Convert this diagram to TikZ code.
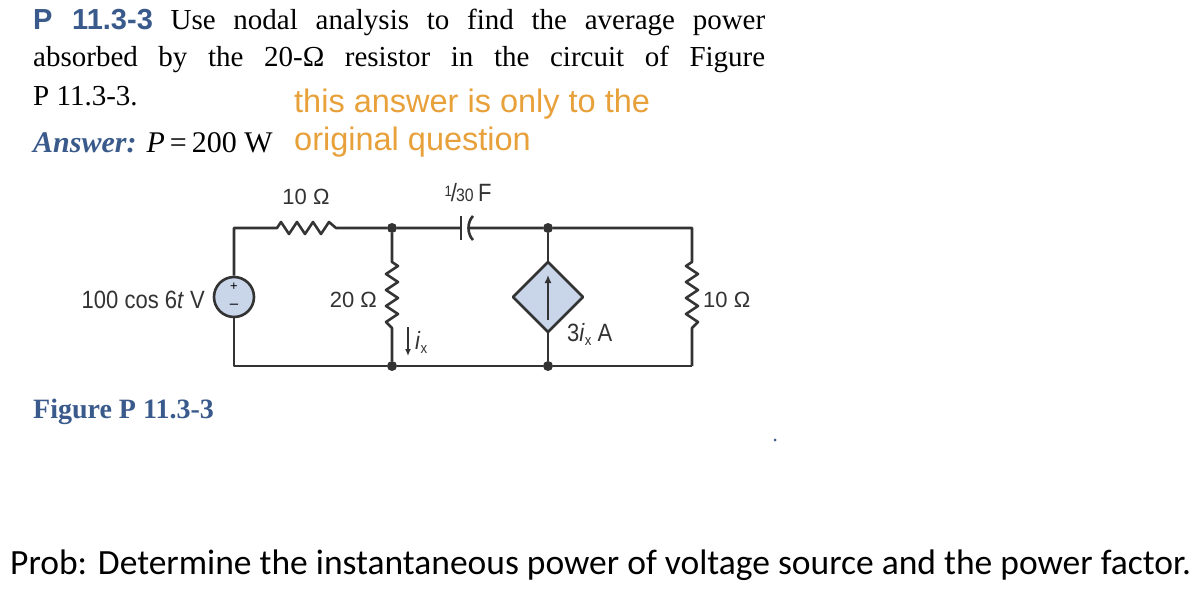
\documentclass[tikz,border=0pt]{standalone}
\usepackage{fontspec}
\setmainfont{Liberation Serif}
\setsansfont{Liberation Sans}
\newfontfamily\calib{Carlito}
\newfontfamily\narrow[FakeStretch=0.88]{Liberation Sans}
\usetikzlibrary{arrows.meta}
\definecolor{titleblue}{HTML}{3A5A8C}
\definecolor{orng}{HTML}{E8A13A}
\definecolor{fillb}{HTML}{C9D5E9}
\definecolor{wire}{HTML}{333333}
\tikzset{w/.style={draw=wire,line width=2.6pt,line join=round},
 dotn/.style={circle,fill=wire,inner sep=0pt,minimum size=10pt},
 lbl/.style={font=\sffamily\fontsize{22}{24}\selectfont,text=wire,inner sep=1pt},
 nlbl/.style={lbl,font=\narrow\fontsize{25}{27}\selectfont},
 txt/.style={anchor=west,inner sep=0pt,font=\fontsize{29}{32}\selectfont}}
\begin{document}
\begin{tikzpicture}[x=1pt,y=-1pt]
\useasboundingbox (0,0) rectangle (1201,602);
\fill[white] (0,0) rectangle (1201,602);
% text
\node[txt] (l1) at (33,22) {\makebox[732pt][s]{\textcolor{titleblue}{\sffamily\bfseries P 11.3-3} Use nodal analysis to find the average power}};
\node[txt] (l2) at (33,59) {\makebox[732pt][s]{absorbed by the 20-Ω resistor in the circuit of Figure}};
\node[txt] (l3) at (33,96) {P 11.3-3.};
\node[txt,font=\fontsize{30}{32}\selectfont] (ans) at (33,143) {\textcolor{titleblue}{\bfseries\itshape Answer:} \textit{P}\,=\,200 W};
\node[txt,font=\sffamily\fontsize{32.5}{34}\selectfont,text=orng] (o1) at (294,104) {this answer is only to the};
\node[txt,font=\sffamily\fontsize{32.5}{34}\selectfont,text=orng] (o2) at (294,142) {original question};
\node[txt,text=titleblue,font=\bfseries\fontsize{28}{30}\selectfont] (fig) at (33,412) {Figure P 11.3-3};
\node[txt,font=\calib\fontsize{35.5}{38}\selectfont] (prob) at (10,565) {Prob: Determine the instantaneous power of voltage source and the power factor.};
\fill[titleblue] (775,440) circle (1.5);
% circuit nodes
\coordinate (tl) at (234,228); \coordinate (bl) at (234,366);
\coordinate (tr) at (692,228); \coordinate (br) at (692,366);
\node[dotn] (n1) at (392,228) {}; \node[dotn] (n2) at (548,228) {};
\node[dotn] (g1) at (392,366) {}; \node[dotn] (g2) at (548,366) {};
\node[circle,draw=wire,line width=2.6pt,fill=fillb,minimum size=40pt,inner sep=0pt] (vs) at (234,297) {};
\node[font=\sffamily\fontsize{13}{13}\selectfont] (vp) at (234,287) {+};
\node[font=\sffamily\fontsize{15}{15}\selectfont] (vm) at (234,306) {--};
\coordinate (dt) at (548,262); \coordinate (db) at (548,332);
\draw[w,fill=fillb] (dt) -- (583,297) -- (db) -- (513,297) -- cycle;
\draw[wire,line width=2.2pt,-{Latex[length=8pt,width=7pt]}] (548,320) -- (548,275);
% wires
\draw[w] (vs.north) -- (tl) -- (277,228)
 -- (281,222) -- (289,234) -- (297,222) -- (305,234) -- (313,222) -- (321,234) -- (329,222) -- (336,228)
 -- (n1) -- (461,228);
\draw[w] (461,216) -- (461,240);
\draw[w] (473,216) .. controls (467,222) and (467,234) .. (473,240);
\draw[w] (468,228) -- (n2) -- (tr) -- (692,262)
 -- (686,266) -- (698,274) -- (686,282) -- (698,290) -- (686,298) -- (698,306) -- (686,314) -- (698,322) -- (692,328) -- (br);
\draw[w] (n1) -- (392,262)
 -- (398,266) -- (386,274) -- (398,282) -- (386,290) -- (398,298) -- (386,306) -- (398,314) -- (386,322) -- (392,328) -- (g1);
\draw[w] (vs.south) -- (bl) -- (g1) -- (g2) -- (br);
\draw[w] (n2) -- (dt);
\draw[w] (db) -- (g2);
\draw[wire,line width=2pt,-{Latex[length=7pt,width=6pt]}] (408,327) -- (408,356);
% labels
\node[lbl] (r1l) at (306,197) {10 Ω};
\node[nlbl] (cl) at (468,193) {\raisebox{5pt}{\fontsize{15}{15}\selectfont 1}\kern-1pt/\kern-1pt\fontsize{18}{18}\selectfont 30 \fontsize{25}{27}\selectfont F};
\node[nlbl,anchor=east] (vl) at (206,300) {100 cos 6\textit{t} V};
\node[lbl,anchor=east] (r2l) at (378,300) {20 Ω};
\node[lbl,anchor=west] (r3l) at (702,300) {10 Ω};
\node[nlbl,anchor=west] (ixl) at (414,342) {\textit{i}\raisebox{-4pt}{\fontsize{15}{15}\selectfont x}};
\node[nlbl,anchor=west] (csl) at (566,334) {3\textit{i}\raisebox{-4pt}{\fontsize{15}{15}\selectfont x} A};
\end{tikzpicture}
\end{document}
